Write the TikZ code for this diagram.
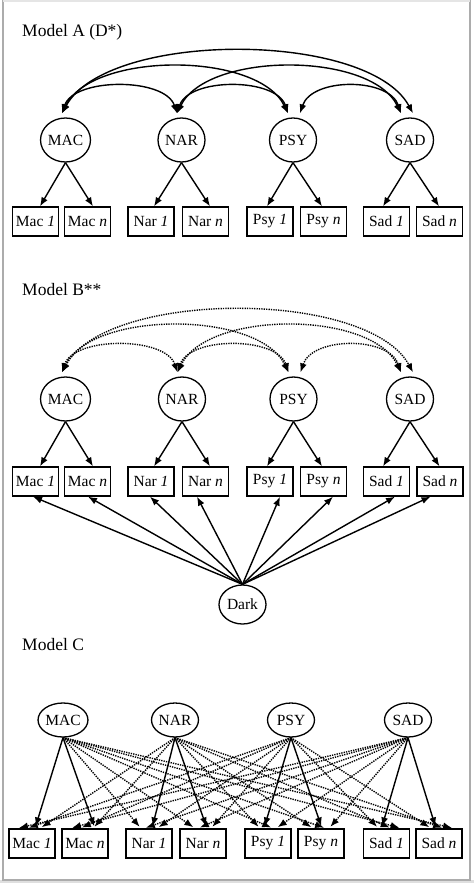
\documentclass[tikz,border=0pt]{standalone}
\usepackage{fontspec}
\setmainfont{Liberation Serif}
\usetikzlibrary{arrows.meta,shapes.geometric}
\begin{document}
\begin{tikzpicture}[x=1pt,y=-1pt,
 lat/.style={ellipse,draw,line width=1.3pt,minimum width=47pt,minimum height=44pt,inner sep=0pt,font=\fontsize{15.5}{18}\selectfont},
 latc/.style={lat,minimum height=34pt},
 obs/.style={rectangle,draw,line width=1.3pt,minimum width=46pt,minimum height=29pt,inner sep=0pt,font=\fontsize{15.5}{18}\selectfont},
 ttl/.style={anchor=west,inner sep=0pt,font=\fontsize{17.5}{20}\selectfont},
 arr/.style={line width=1.4pt,-{Latex[length=9pt,width=7pt]}},
 corr/.style={line width=1.4pt,{Latex[length=9pt,width=7pt]}-{Latex[length=9pt,width=7pt]}},
 dcorr/.style={corr,dash pattern=on 1.3pt off 1.1pt},
 dotarr/.style={arr,dash pattern=on 1.3pt off 1.1pt},
]
\useasboundingbox (0,0) rectangle (474,883);
% frame
\fill[white] (0,0) rectangle (474,883);
\fill[gray!25] (0,880) rectangle (474,883);
\draw[gray!65,line width=2.5pt] (3,0) -- (3,880) -- (470,880) -- (470,0);
\draw[gray!20,line width=1.5pt] (3,1) -- (470,1);

% ================= Model A =================
\node[ttl] (ta) at (22,32) {Model A (D*)};
\node[lat] (amac) at (65.5,140) {MAC};
\node[lat] (anar) at (181.5,140) {NAR};
\node[lat] (apsy) at (293,140) {PSY};
\node[lat] (asad) at (410,140) {SAD};
\node[obs] (a1) at (35.5,221.5) {Mac \textit{1}};
\node[obs] (a2) at (87.5,221.5) {Mac \textit{n}};
\node[obs] (a3) at (151,221.5) {Nar \textit{1}};
\node[obs] (a4) at (205.5,221.5) {Nar \textit{n}};
\node[obs] (a5) at (270,221.5) {Psy \textit{1}};
\node[obs] (a6) at (323.5,221.5) {Psy \textit{n}};
\node[obs] (a7) at (386.5,221.5) {Sad \textit{1}};
\node[obs] (a8) at (439.5,221.5) {Sad \textit{n}};
\draw[arr] (amac.south) -- ([xshift=4.5pt]a1.north);
\draw[arr] (amac.south) -- ([xshift=5.5pt]a2.north);
\draw[arr] (anar.south) -- ([xshift=3pt]a3.north);
\draw[arr] (anar.south) -- ([xshift=4.5pt]a4.north);
\draw[arr] (apsy.south) -- ([xshift=-3pt]a5.north);
\draw[arr] (apsy.south) -- ([xshift=-1.5pt]a6.north);
\draw[arr] (asad.south) -- ([xshift=-3.5pt]a7.north);
\draw[arr] (asad.south) -- ([xshift=-0.5pt]a8.north);
\draw[corr] ([xshift=-3.5pt,yshift=4pt]amac.north) .. controls +(12,-36) and +(-12,-36) .. ([xshift=-4.5pt,yshift=4pt]anar.north);
\draw[corr] ([xshift=-3.5pt,yshift=4pt]amac.north) .. controls +(30,-62) and +(-30,-62) .. ([xshift=-5pt,yshift=4pt]apsy.north);
\draw[corr] ([xshift=-3.5pt,yshift=4pt]amac.north) .. controls +(45,-83) and +(-45,-83) .. ([xshift=3pt,yshift=4pt]asad.north);
\draw[corr] ([xshift=-4.5pt,yshift=4pt]anar.north) .. controls +(12,-36) and +(-12,-36) .. ([xshift=-5pt,yshift=4pt]apsy.north);
\draw[corr] ([xshift=-4.5pt,yshift=4pt]anar.north) .. controls +(30,-62) and +(-30,-62) .. ([xshift=-9pt,yshift=4pt]asad.north);
\draw[corr] ([xshift=7pt,yshift=4pt]apsy.north) .. controls +(12,-36) and +(-12,-36) .. ([xshift=-9pt,yshift=4pt]asad.north);

% ================= Model B =================
\node[ttl] (tb) at (22,290) {Model B**};
\node[lat] (bmac) at (65.5,399) {MAC};
\node[lat] (bnar) at (182,399) {NAR};
\node[lat] (bpsy) at (293.5,399) {PSY};
\node[lat] (bsad) at (410,399) {SAD};
\node[obs] (b1) at (35.5,481.5) {Mac \textit{1}};
\node[obs] (b2) at (87.5,481.5) {Mac \textit{n}};
\node[obs] (b3) at (151,481.5) {Nar \textit{1}};
\node[obs] (b4) at (205.5,481.5) {Nar \textit{n}};
\node[obs] (b5) at (270,481.5) {Psy \textit{1}};
\node[obs] (b6) at (323.5,481.5) {Psy \textit{n}};
\node[obs] (b7) at (386.5,481.5) {Sad \textit{1}};
\node[obs] (b8) at (440,481.5) {Sad \textit{n}};
\node[lat,minimum height=39pt] (dark) at (242.5,604.5) {Dark};
\draw[arr] (bmac.south) -- ([xshift=4.5pt]b1.north);
\draw[arr] (bmac.south) -- ([xshift=5.5pt]b2.north);
\draw[arr] (bnar.south) -- ([xshift=3pt]b3.north);
\draw[arr] (bnar.south) -- ([xshift=4.5pt]b4.north);
\draw[arr] (bpsy.south) -- ([xshift=-3pt]b5.north);
\draw[arr] (bpsy.south) -- ([xshift=-1.5pt]b6.north);
\draw[arr] (bsad.south) -- ([xshift=-3.5pt]b7.north);
\draw[arr] (bsad.south) -- ([xshift=-0.5pt]b8.north);
\draw[dcorr] ([xshift=-3.5pt,yshift=4pt]bmac.north) .. controls +(12,-36) and +(-12,-36) .. ([xshift=-4.5pt,yshift=4pt]bnar.north);
\draw[dcorr] ([xshift=-3.5pt,yshift=4pt]bmac.north) .. controls +(30,-62) and +(-30,-62) .. ([xshift=-5pt,yshift=4pt]bpsy.north);
\draw[dcorr] ([xshift=-3.5pt,yshift=4pt]bmac.north) .. controls +(45,-83) and +(-45,-83) .. ([xshift=3pt,yshift=4pt]bsad.north);
\draw[dcorr] ([xshift=-4.5pt,yshift=4pt]bnar.north) .. controls +(12,-36) and +(-12,-36) .. ([xshift=-5pt,yshift=4pt]bpsy.north);
\draw[dcorr] ([xshift=-4.5pt,yshift=4pt]bnar.north) .. controls +(30,-62) and +(-30,-62) .. ([xshift=-9pt,yshift=4pt]bsad.north);
\draw[dcorr] ([xshift=7pt,yshift=4pt]bpsy.north) .. controls +(12,-36) and +(-12,-36) .. ([xshift=-9pt,yshift=4pt]bsad.north);
\draw[arr] (dark.north) -- ([xshift=-2.5pt]b1.south);
\draw[arr] (dark.north) -- ([xshift=0.5pt]b2.south);
\draw[arr] (dark.north) -- ([xshift=-1pt]b3.south);
\draw[arr] (dark.north) -- ([xshift=-8.5pt]b4.south);
\draw[arr] (dark.north) -- ([xshift=10pt]b5.south);
\draw[arr] (dark.north) -- ([xshift=9.5pt]b6.south);
\draw[arr] (dark.north) -- ([xshift=8.5pt]b7.south);
\draw[arr] (dark.north) -- ([xshift=-9.5pt]b8.south);

% ================= Model C =================
\node[ttl] (tc) at (22,645) {Model C};
\node[latc] (cm) at (63,720) {MAC};
\node[latc] (cn) at (175,720) {NAR};
\node[latc] (cp) at (291,720) {PSY};
\node[latc] (cs) at (408,720) {SAD};
\node[obs] (c1) at (32,843.5) {Mac \textit{1}};
\node[obs] (c2) at (85,843.5) {Mac \textit{n}};
\node[obs] (c3) at (149,843.5) {Nar \textit{1}};
\node[obs] (c4) at (203,843.5) {Nar \textit{n}};
\node[obs] (c5) at (268,843.5) {Psy \textit{1}};
\node[obs] (c6) at (321,843.5) {Psy \textit{n}};
\node[obs] (c7) at (386.5,843.5) {Sad \textit{1}};
\node[obs] (c8) at (439,843.5) {Sad \textit{n}};
\foreach \k/\src in {0/cm,1/cn,2/cp,3/cs}{
  \foreach \j in {1,...,8}{
    \pgfmathtruncatemacro{\g}{int((\j-1)/2)}
    \pgfmathtruncatemacro{\d}{\k-\g}
    \ifnum\d=0\relax\else
      \pgfmathsetmacro{\off}{\d==1?8:(\d==2?-5:(\d==3?-15:(\d==-1?-8:(\d==-2?5:15))))}
      \draw[dotarr,shorten >=2pt] (\src.south) -- ([xshift=\off pt]c\j.north);
    \fi
  }
}
\draw[arr,shorten >=2pt] (cm.south) -- ([xshift=3pt]c1.north);
\draw[arr,shorten >=2pt] (cm.south) -- ([xshift=10pt]c2.north);
\draw[arr,shorten >=2pt] (cn.south) -- ([xshift=3pt]c3.north);
\draw[arr,shorten >=2pt] (cn.south) -- ([xshift=4pt]c4.north);
\draw[arr,shorten >=2pt] (cp.south) -- ([xshift=-4pt]c5.north);
\draw[arr,shorten >=2pt] (cp.south) -- ([xshift=1pt]c6.north);
\draw[arr,shorten >=2pt] (cs.south) -- ([xshift=-5pt]c7.north);
\draw[arr,shorten >=2pt] (cs.south) -- ([xshift=-3pt]c8.north);
\end{tikzpicture}
\end{document}
